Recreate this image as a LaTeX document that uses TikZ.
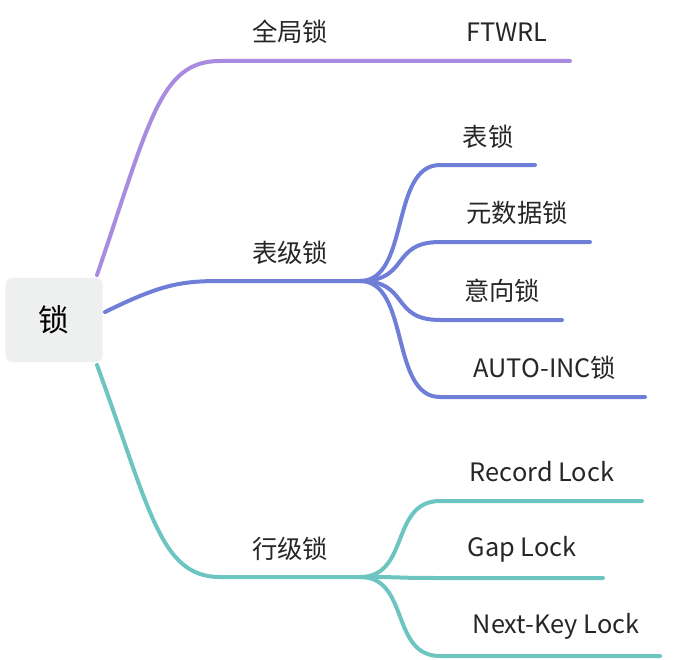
\documentclass[tikz,border=0pt]{standalone}
\usepackage{fontspec}
\setmainfont{Noto Sans CJK SC}
\definecolor{pur}{HTML}{A98CE0}
\definecolor{blu}{HTML}{6F7FD8}
\definecolor{tea}{HTML}{6CC5C0}
\definecolor{rootbg}{HTML}{EEF0EF}
\begin{document}
\begin{tikzpicture}[x=0.75pt,y=-0.75pt,
  br/.style={line width=3pt,line cap=round},
  lab/.style={font=\fontsize{19}{22}\selectfont,text=black!85,inner sep=0pt}]
\useasboundingbox (0,0) rectangle (682,660);
\node[fill=rootbg,rounded corners=5pt,minimum width=73pt,minimum height=63pt,font=\fontsize{23}{27}\selectfont] (root) at (54,320) {锁};
% coordinates
\coordinate (pa) at (97,275); \coordinate (pb) at (220,61); \coordinate (pc) at (570,61);
\coordinate (ba) at (105,312); \coordinate (bb) at (220,281); \coordinate (bc) at (360,281);
\coordinate (ta) at (97,365); \coordinate (tb) at (220,577); \coordinate (tc) at (360,577);
% purple
\draw[br,pur] (pa) .. controls (150,120) and (160,61) .. (pb) -- (pc);
\node[lab] (n1) at (290,32) {全局锁};
\node[lab] (n11) at (507,32) {FTWRL};
% blue
\draw[br,blu] (ba) .. controls (160,285) and (180,281) .. (bb) -- (bc);
\node[lab] (n2) at (290,253) {表级锁};
\foreach \y/\e in {165/535,242/590,320/562,397/645}{
  \draw[br,blu] (bc) .. controls (410,281) and (390,\y) .. (440,\y) -- (\e,\y);}
\node[lab] (n21) at (488,137) {表锁};
\node[lab] (n22) at (517,213) {元数据锁};
\node[lab] (n23) at (502,291) {意向锁};
\node[lab] (n24) at (545,368) {AUTO-INC锁};
% teal
\draw[br,tea] (ta) .. controls (150,510) and (160,577) .. (tb) -- (tc);
\node[lab] (n3) at (290,549) {行级锁};
\foreach \y/\e in {501/642,578/603,656/660}{
  \draw[br,tea] (tc) .. controls (410,577) and (390,\y) .. (440,\y) -- (\e,\y);}
\node[lab] (n31) at (542,472) {Record Lock};
\node[lab] (n32) at (522,549) {Gap Lock};
\node[lab] (n33) at (556,626) {Next-Key Lock};
\end{tikzpicture}
\end{document}
